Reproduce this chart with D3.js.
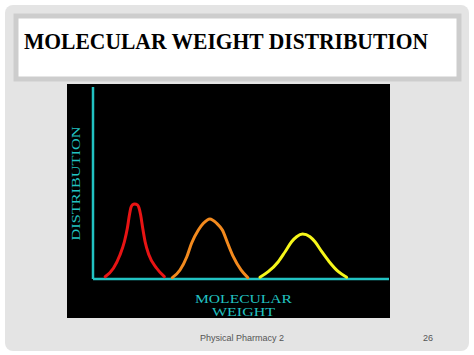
<!DOCTYPE html>
<html>
<head>
<meta charset="utf-8">
<script src="https://cdn.jsdelivr.net/npm/d3@7"></script>
<style>
  body { margin: 0; background: #fff; }
  svg { display: block; }
</style>
</head>
<body>
<svg id="slide"></svg>
<script>
const width = 474;
const height = 355;

// curves, molecular weight (0-100) vs distribution (0-100)
const redMw = [4.1, 6.9, 9.1, 10.6, 11.6, 12.3, 12.8, 13.3, 14.1, 15.0, 15.5, 16.1, 16.8, 17.6, 18.9, 21.5, 24.1];
const redDist = [1.2, 5.6, 12.5, 19.4, 26.4, 33.3, 37.2, 38.6, 39.1, 38.6, 37.2, 33.3, 26.4, 19.4, 12.5, 5.6, 1.2];

const orangeMw = [26.8, 29.4, 31.7, 33.3, 35.6, 37.3, 39.5, 41.8, 43.7, 45.5, 47.4, 50.0, 52.3];
const orangeDist = [0.7, 4.7, 11.6, 18.6, 25.5, 29.0, 31.3, 29.0, 25.5, 18.6, 11.6, 4.7, 0.7];

const yellowMw = [56.4, 59.2, 62.6, 64.9, 67.1, 68.8, 70.8, 73.3, 75.0, 77.3, 79.8, 82.9, 85.7];
const yellowDist = [0.9, 3.8, 9.0, 14.2, 19.4, 22.0, 23.4, 22.0, 19.4, 14.2, 9.0, 3.8, 0.9];

const seriesColors = ['#e81414', '#f38a1e', '#f6f61a'];

const titleText = 'MOLECULAR WEIGHT DISTRIBUTION';
const yLabel = 'DISTRIBUTION';
const xLabel = ['MOLECULAR', 'WEIGHT'];
const footerText = 'Physical Pharmacy 2';
const pageNumber = '26';

const svg = d3.select('#slide')
    .attr('width', width)
    .attr('height', height);

// slide background
svg.append('rect')
    .attr('x', 5).attr('y', 5)
    .attr('width', 464).attr('height', 346)
    .attr('rx', 8)
    .attr('fill', '#e4e4e4');

// title box
svg.append('rect')
    .attr('x', 16).attr('y', 16)
    .attr('width', 443).attr('height', 63)
    .attr('fill', '#fff')
    .attr('stroke', '#cdcdcd')
    .attr('stroke-width', 5);

svg.append('text')
    .attr('x', 24).attr('y', 49)
    .attr('textLength', 404)
    .attr('lengthAdjust', 'spacingAndGlyphs')
    .style('font-family', '"Liberation Serif", "Times New Roman", serif')
    .style('font-weight', 'bold')
    .style('font-size', '24px')
    .attr('fill', '#000')
    .text(titleText);

// black chart panel
svg.append('rect')
    .attr('x', 67).attr('y', 84)
    .attr('width', 323).attr('height', 234)
    .attr('fill', '#000');

const x = d3.scaleLinear().domain([0, 100]).range([93, 389]);
const y = d3.scaleLinear().domain([0, 100]).range([279, 87]);

const axisColor = '#22c2c2';

// axes drawn as plain lines, no ticks
const plot = svg.append('g');

plot.append('line')
    .attr('x1', x(0)).attr('x2', x(0))
    .attr('y1', y(0)).attr('y2', y(100))
    .attr('stroke', axisColor)
    .attr('stroke-width', 2.5);

plot.append('line')
    .attr('x1', x(0)).attr('x2', x(100))
    .attr('y1', y(0)).attr('y2', y(0))
    .attr('stroke', axisColor)
    .attr('stroke-width', 2.5);

const line = d3.line()
    .x(d => x(d[0]))
    .y(d => y(d[1]))
    .curve(d3.curveMonotoneX);

const curves = [
    d3.zip(redMw, redDist),
    d3.zip(orangeMw, orangeDist),
    d3.zip(yellowMw, yellowDist)
];

plot.selectAll('.curve')
    .data(curves)
    .enter()
    .append('path')
    .attr('class', 'curve')
    .attr('fill', 'none')
    .attr('stroke', (d, i) => seriesColors[i])
    .attr('stroke-width', 3)
    .attr('stroke-linecap', 'round')
    .attr('d', line);

// axis labels
svg.append('text')
    .attr('transform', `translate(80, ${(126 + 241) / 2}) rotate(-90)`)
    .attr('text-anchor', 'middle')
    .attr('textLength', 114)
    .attr('lengthAdjust', 'spacingAndGlyphs')
    .style('font-family', '"Liberation Serif", "Times New Roman", serif')
    .style('font-size', '13.5px')
    .attr('fill', axisColor)
    .text(yLabel);

svg.selectAll('.xlabel')
    .data(xLabel)
    .enter()
    .append('text')
    .attr('class', 'xlabel')
    .attr('x', 243.5)
    .attr('y', (d, i) => 302.8 + i * 13)
    .attr('text-anchor', 'middle')
    .attr('textLength', (d, i) => i === 0 ? 97 : 63)
    .attr('lengthAdjust', 'spacingAndGlyphs')
    .style('font-family', '"Liberation Serif", "Times New Roman", serif')
    .style('font-size', '11.5px')
    .attr('fill', axisColor)
    .text(d => d);

// footer
svg.append('text')
    .attr('x', 200).attr('y', 341)
    .style('font-family', '"Liberation Sans", Arial, sans-serif')
    .style('font-size', '9px')
    .attr('fill', '#555')
    .text(footerText);

svg.append('text')
    .attr('x', 433).attr('y', 341)
    .attr('text-anchor', 'end')
    .style('font-family', '"Liberation Sans", Arial, sans-serif')
    .style('font-size', '9px')
    .attr('fill', '#555')
    .text(pageNumber);
</script>
</body>
</html>
